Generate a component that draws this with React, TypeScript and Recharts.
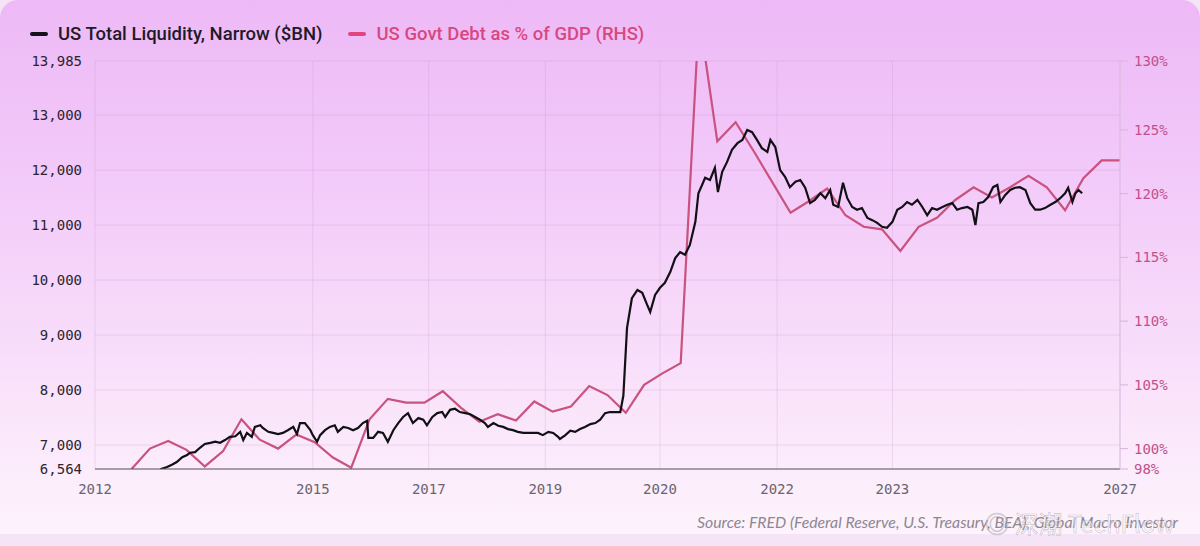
import React from "react";
import { LineChart, Line, XAxis, YAxis, CartesianGrid } from "recharts";

// x unit: months since Jan 2012 (axis runs to month 168)
const liqMonth = [
  10.7, 11.8, 12.6, 13.4, 14.3, 15.1, 15.6, 16.4, 17.2, 18.0, 18.9, 19.7, 20.5, 21.3, 22.1, 23.0, 23.8, 24.3, 24.9, 25.7,
  26.2, 27.1, 27.5, 28.4, 29.2, 30.0, 30.8, 31.6, 32.5, 33.1, 33.6, 34.4, 35.3, 35.7, 36.4, 36.9, 37.7, 38.5, 39.3, 39.8,
  40.7, 41.5, 42.3, 43.1, 43.9, 44.6, 44.8, 45.6, 46.4, 47.2, 48.0, 48.9, 49.7, 50.5, 51.3, 52.1, 53.0, 53.8, 54.4, 55.3,
  56.1, 56.9, 57.4, 58.2, 59.0, 59.8, 60.7, 61.5, 62.3, 63.1, 63.9, 64.4, 65.3, 66.1, 66.9, 67.7, 68.5, 69.3, 70.2, 71.0,
  71.8, 72.6, 73.4, 74.3, 75.1, 75.9, 76.2, 77.1, 77.9, 78.7, 79.5, 80.3, 81.2, 82.0, 82.8, 83.6, 84.4, 85.3, 86.1, 86.6,
  87.2, 88.0, 88.9, 89.7, 90.5, 91.0, 91.8, 92.6, 93.4, 94.3, 95.1, 95.9, 96.7, 97.5, 98.4, 98.9, 99.5, 100.0, 100.8, 101.6,
  102.1, 102.8, 103.6, 104.4, 105.3, 106.1, 106.9, 107.7, 108.5, 109.3, 110.2, 110.7, 111.5, 112.3, 113.1, 113.9, 114.8, 115.6, 116.4, 117.2,
  118.0, 118.9, 119.7, 120.5, 121.0, 121.8, 122.6, 123.3, 124.1, 124.9, 125.7, 126.6, 127.4, 128.2, 129.0, 129.8, 130.7, 131.5, 132.3, 133.1,
  133.9, 134.8, 135.6, 136.4, 137.2, 138.0, 138.9, 139.7, 140.5, 141.3, 142.1, 143.0, 143.8, 144.3, 144.8, 145.6, 146.4, 147.2, 147.9, 148.4,
  149.2, 150.0, 150.8, 151.6, 152.5, 153.3, 154.1, 154.9, 155.7, 156.6, 157.4, 158.2, 159.0, 159.5, 160.2, 160.7, 161.2, 161.8,
];
const liqValue = [
  6560, 6600, 6640, 6690, 6780, 6820, 6860, 6870, 6950, 7020, 7040, 7060, 7040, 7090, 7150, 7160, 7240, 7090, 7220, 7150,
  7330, 7360, 7310, 7240, 7220, 7200, 7220, 7270, 7330, 7200, 7400, 7400, 7270, 7180, 7060, 7180, 7270, 7330, 7360, 7240,
  7330, 7310, 7270, 7310, 7400, 7440, 7130, 7130, 7240, 7220, 7060, 7270, 7400, 7510, 7580, 7400, 7490, 7460, 7360, 7510,
  7580, 7600, 7510, 7640, 7660, 7600, 7580, 7560, 7510, 7460, 7400, 7330, 7400, 7350, 7330, 7290, 7270, 7240, 7220, 7220,
  7220, 7220, 7180, 7240, 7220, 7150, 7110, 7180, 7260, 7240, 7290, 7330, 7380, 7400, 7460, 7580, 7600, 7600, 7600, 7900,
  9130, 9670, 9820, 9770, 9550, 9420, 9730, 9860, 9950, 10150, 10400, 10510, 10460, 10640, 11060, 11580, 11730, 11860, 11820, 12040,
  11600, 11970, 12150, 12370, 12490, 12550, 12730, 12690, 12550, 12400, 12330, 12550, 12420, 12000, 11880, 11690, 11790, 11820, 11680, 11400,
  11460, 11580, 11490, 11640, 11370, 11330, 11770, 11490, 11330, 11280, 11310, 11130, 11090, 11040, 10970, 10950, 11060, 11280, 11330, 11420,
  11370, 11460, 11330, 11180, 11310, 11280, 11330, 11370, 11400, 11280, 11310, 11330, 11280, 11000, 11400, 11420, 11510, 11690, 11730, 11420,
  11550, 11640, 11680, 11690, 11640, 11400, 11280, 11280, 11310, 11370, 11420, 11490, 11580, 11680, 11420, 11580, 11640, 11580,
];

const debtMonth = [
  6, 9, 12, 15, 18, 21, 24, 27, 30, 33, 36, 39, 42, 45, 48, 51, 54, 57, 60, 63,
  66, 69, 72, 75, 78, 81, 84, 87, 90, 93, 96, 99, 102, 105, 108, 111, 114, 117, 120, 123,
  126, 129, 132, 135, 138, 141, 144, 147, 150, 153, 156, 159, 162, 165, 168,
];
const debtPct = [
  98.4, 100.0, 100.6, 99.9, 98.6, 99.8, 102.3, 100.7, 100.0, 101.1, 100.5, 99.3, 98.5, 102.3, 103.9, 103.6, 103.6, 104.5, 103.2, 102.1,
  102.7, 102.2, 103.7, 102.9, 103.3, 104.9, 104.2, 102.8, 105.0, 105.9, 106.7, 134.0, 124.1, 125.6, 123.3, 120.9, 118.5, 119.4, 120.4, 118.3,
  117.4, 117.2, 115.5, 117.4, 118.1, 119.5, 120.5, 119.7, 120.5, 121.4, 120.5, 118.7, 121.2, 122.6, 122.6,
];

const xTickPos = [0, 35.7, 54.7, 73.8, 92.6, 111.8, 130.7, 168];
const xTickLabels = ["2012", "2015", "2017", "2019", "2020", "2022", "2023", "2027"];
const leftTicks = [6564, 7000, 8000, 9000, 10000, 11000, 12000, 13000, 13985];
const rightTicks = [98.4, 100, 105, 110, 115, 120, 125, 130.4];

const liqData = liqMonth.map((m, i) => ({ m, v: liqValue[i] }));
const debtData = debtMonth.map((m, i) => ({ m, v: debtPct[i] }));

const mono = "'DejaVu Sans Mono', monospace";
const PINK = "#c9527f";

export default function App() {
  return (
    <div style={{ width: 1200, height: 546, position: "relative", background: "#f4e4f6", overflow: "hidden" }}>
      <style>{"body{margin:0}"}</style>
      <div
        style={{
          position: "absolute",
          left: 0,
          top: 0,
          width: 1200,
          height: 534,
          borderRadius: "18px 18px 0 0",
          background: "linear-gradient(180deg, #edb9f6 0%, #f2c8f9 30%, #f7dafa 60%, #fbeafb 85%, #fdf3fc 100%)",
        }}
      />
      <div
        style={{
          position: "absolute",
          left: 30,
          top: 23,
          display: "flex",
          alignItems: "center",
          fontFamily: "Roboto, sans-serif",
          fontSize: 18.5,
          fontWeight: 500,
          zIndex: 2,
        }}
      >
        <span style={{ width: 18, height: 4, borderRadius: 2, background: "#15121f", marginRight: 10 }} />
        <span style={{ color: "#1d1a2a" }}>US Total Liquidity, Narrow ($BN)</span>
        <span style={{ width: 18, height: 4, borderRadius: 2, background: "#e0457f", marginLeft: 25, marginRight: 11 }} />
        <span style={{ color: "#d8487f" }}>US Govt Debt as % of GDP (RHS)</span>
      </div>
      <div style={{ position: "absolute", left: 0, top: 0 }}>
        <LineChart width={1200} height={546} margin={{ top: 61, right: 0, bottom: 47, left: 0 }}>
          <CartesianGrid yAxisId="left" stroke="#b98ac0" strokeOpacity={0.22} />
          <XAxis
            dataKey="m"
            type="number"
            domain={[0, 168]}
            ticks={xTickPos}
            interval={0}
            tickFormatter={(_v: number, i: number) => xTickLabels[i]}
            allowDataOverflow
            height={30}
            tickLine={false}
            tickMargin={9}
            axisLine={{ stroke: "#5d5660", strokeWidth: 1.2 }}
            tick={{ fontFamily: mono, fontSize: 14, fill: "#6a6470" }}
          />
          <YAxis
            yAxisId="left"
            width={95}
            domain={[6564, 13985]}
            ticks={leftTicks}
            interval={0}
            allowDataOverflow
            tickLine={false}
            axisLine={false}
            tickMargin={7}
            tickFormatter={(v: number) => v.toLocaleString("en-US")}
            tick={{ fontFamily: mono, fontSize: 14, fill: "#2a2530" }}
          />
          <YAxis
            yAxisId="right"
            orientation="right"
            width={80}
            domain={[98.4, 130.4]}
            ticks={rightTicks}
            interval={0}
            allowDataOverflow
            tickSize={8}
            tickMargin={6}
            tickLine={{ stroke: "#d6b4da" }}
            axisLine={{ stroke: "#dcbfe0" }}
            tickFormatter={(v: number) => `${Math.round(v)}%`}
            tick={{ fontFamily: mono, fontSize: 14, fill: "#c0528a" }}
          />
          <Line
            yAxisId="right"
            data={debtData}
            dataKey="v"
            type="linear"
            stroke={PINK}
            strokeWidth={2.2}
            dot={false}
            isAnimationActive={false}
          />
          <Line
            yAxisId="left"
            data={liqData}
            dataKey="v"
            type="linear"
            stroke="#111014"
            strokeWidth={2.2}
            dot={false}
            isAnimationActive={false}
          />
        </LineChart>
      </div>
      <div
        style={{
          position: "absolute",
          right: 22,
          top: 512,
          fontFamily: "Lato, sans-serif",
          fontStyle: "italic",
          fontSize: 15.8,
          color: "#8d8790",
          whiteSpace: "nowrap",
        }}
      >
        Source: FRED (Federal Reserve, U.S. Treasury, BEA), Global Macro Investor
      </div>
      <div
        style={{
          position: "absolute",
          left: 985,
          top: 505,
          fontFamily: "'Noto Sans CJK SC', sans-serif",
          fontSize: 24,
          color: "rgba(255,255,255,0.5)",
          WebkitTextStroke: "0.6px rgba(120,110,120,0.4)",
          whiteSpace: "nowrap",
        }}
      >
        ◎ 深潮 TechFlow
      </div>
    </div>
  );
}
